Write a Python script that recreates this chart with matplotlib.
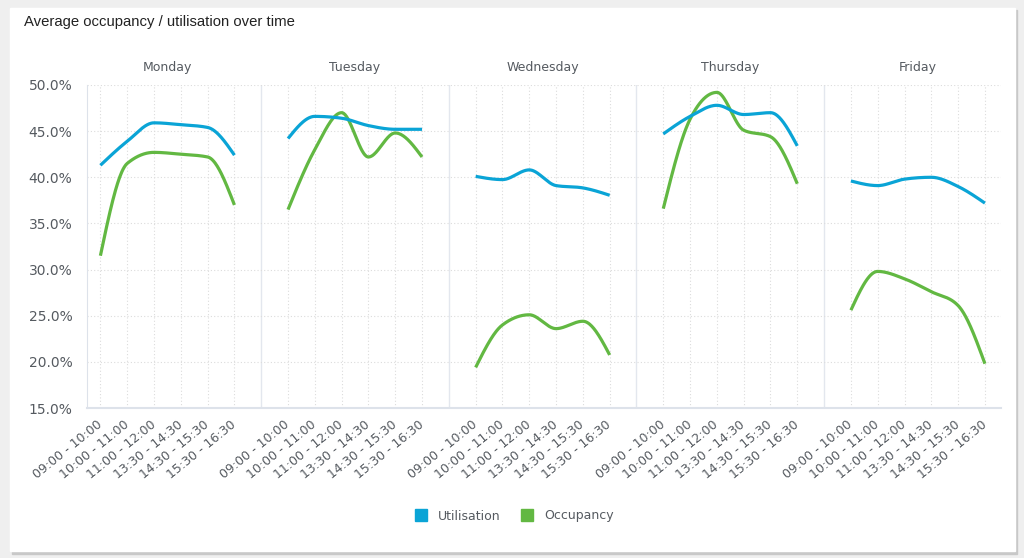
import numpy as np
import matplotlib.pyplot as plt
from matplotlib.lines import Line2D
from matplotlib.patches import Rectangle

days = ["Monday", "Tuesday", "Wednesday", "Thursday", "Friday"]
slots = ["09:00 - 10:00", "10:00 - 11:00", "11:00 - 12:00",
         "13:30 - 14:30", "14:30 - 15:30", "15:30 - 16:30"]

utilisation = [
    [41.3, 43.9, 45.9, 45.7, 45.4, 42.4],
    [44.2, 46.6, 46.4, 45.6, 45.2, 45.2],
    [40.1, 39.75, 40.8, 39.1, 38.85, 38.05],
    [44.7, 46.6, 47.8, 46.8, 47.0, 43.4],
    [39.6, 39.1, 39.8, 40.0, 39.0, 37.2],
]
occupancy = [
    [31.5, 41.5, 42.7, 42.5, 42.2, 37.0],
    [36.5, 43.0, 47.0, 42.2, 44.8, 42.2],
    [19.4, 24.0, 25.1, 23.6, 24.4, 20.75],
    [36.6, 46.3, 49.2, 45.1, 44.4, 39.3],
    [25.6, 29.8, 29.0, 27.6, 26.1, 19.8],
]

BLUE = "#0aa4d6"
GREEN = "#62b842"
TXT = "#555a60"


def monotone_x(xs, ys, n=40):
    # d3 curveMonotoneX style smoothing
    xs = np.asarray(xs, float)
    ys = np.asarray(ys, float)
    h = np.diff(xs)
    s = np.diff(ys) / h
    t = np.zeros(len(xs))
    sg = lambda v: -1.0 if v < 0 else 1.0
    for i in range(1, len(xs) - 1):
        p = (s[i - 1] * h[i] + s[i] * h[i - 1]) / (h[i - 1] + h[i])
        t[i] = (sg(s[i - 1]) + sg(s[i])) * min(abs(s[i - 1]), abs(s[i]), 0.5 * abs(p))
    t[0] = (3 * s[0] - t[1]) / 2
    t[-1] = (3 * s[-1] - t[-2]) / 2
    px, py = [], []
    for i in range(len(xs) - 1):
        u = np.linspace(0, 1, n)
        h00 = 2 * u**3 - 3 * u**2 + 1
        h10 = u**3 - 2 * u**2 + u
        h01 = -2 * u**3 + 3 * u**2
        h11 = u**3 - u**2
        px.append(xs[i] + u * h[i])
        py.append(h00 * ys[i] + h10 * h[i] * t[i] + h01 * ys[i + 1] + h11 * h[i] * t[i + 1])
    return np.concatenate(px), np.concatenate(py)


fig = plt.figure(figsize=(10.24, 5.58), dpi=100)
fig.patch.set_facecolor("#efefef")
# card with shadow
fig.patches.append(Rectangle((12 / 1024, 1 - 554 / 558), 1005 / 1024, 544 / 558,
                             transform=fig.transFigure, color="#c8c8c8", zorder=-2))
fig.patches.append(Rectangle((10 / 1024, 1 - 551 / 558), 1005 / 1024, 543 / 558,
                             transform=fig.transFigure, color="white", zorder=-1))

ax = fig.add_axes([87 / 1024, 1 - 408 / 558, 914 / 1024, 323 / 558])
ax.set_facecolor("none")

ticks = []
labels = []
for g in range(len(days)):
    xs = [7 * g + i for i in range(len(slots))]
    ticks += xs
    labels += slots
    for vals, col in ((occupancy[g], GREEN), (utilisation[g], BLUE)):
        sx, sy = monotone_x(xs, vals)
        ax.plot(sx, sy, color=col, lw=2.3, solid_capstyle="butt", zorder=3)
    ax.text(7 * g + 2.5, 51.9, days[g], ha="center", va="center",
            fontsize=9, color=TXT)
    if g > 0:
        ax.axvline(7 * g - 1, color="#e3e7ee", lw=1, zorder=1)

ax.set_xlim(-0.5, 33.6)
ax.set_ylim(15, 50)
ax.set_yticks(np.arange(15, 50.1, 5))
ax.set_yticklabels([f"{v:.1f}%" for v in np.arange(15, 50.1, 5)],
                   fontsize=10, color=TXT)
ax.set_xticks(ticks)
ax.set_xticklabels(labels, rotation=39, ha="right", va="center",
                   rotation_mode="anchor", fontsize=9, color=TXT)
ax.tick_params(axis="y", length=0, pad=10.5)
ax.tick_params(axis="x", length=0, pad=11)
ax.grid(True, color="#dcdcdc", ls=(0, (1, 2)), lw=0.8, zorder=0)
for side in ("top", "right"):
    ax.spines[side].set_visible(False)
ax.spines["left"].set_color("#dde2ea")
ax.spines["bottom"].set_color("#dde2ea")
ax.spines["bottom"].set_linewidth(1.5)

fig.text(24 / 1024, 1 - 22 / 558, "Average occupancy / utilisation over time",
         fontsize=10.7, color="#222222", family="Liberation Sans", va="center")

handles = [Line2D([], [], marker="s", ls="none", color=BLUE, markersize=9),
           Line2D([], [], marker="s", ls="none", color=GREEN, markersize=9)]
fig.legend(handles, ["Utilisation", "Occupancy"], loc="center",
           bbox_to_anchor=(511 / 1024, 1 - 516 / 558), ncol=2, frameon=False,
           handletextpad=0.4, columnspacing=1.1,
           prop={"size": 9}, labelcolor=TXT)

fig.savefig("out.png", dpi=100, facecolor=fig.get_facecolor())
